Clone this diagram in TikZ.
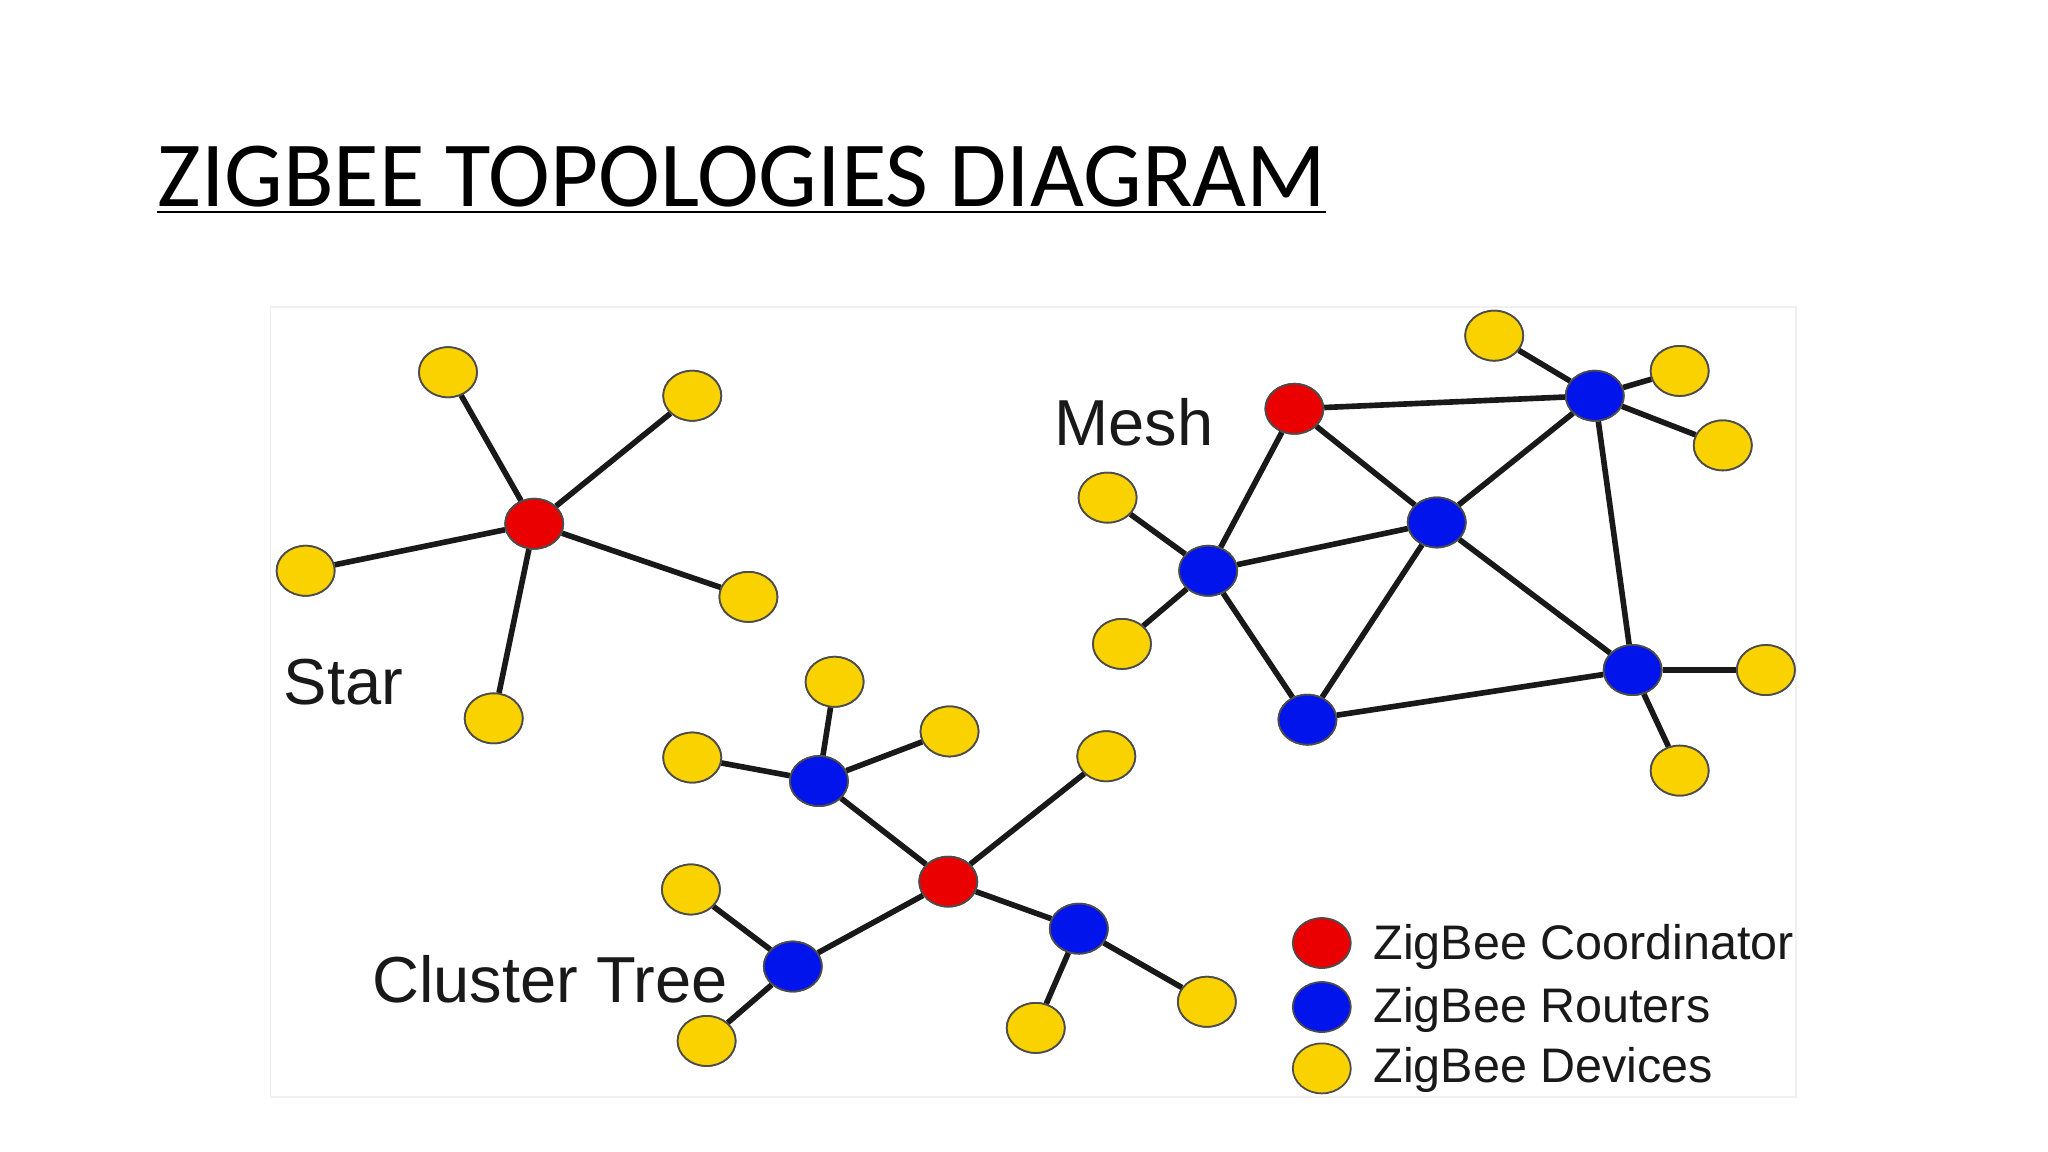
\documentclass[tikz,border=0pt]{standalone}
\usepackage{fontspec}
\setmainfont{Liberation Sans}
\newfontfamily\titlefont{Carlito}
\usetikzlibrary{shapes.geometric}
\tikzset{
 nd/.style={ellipse,draw=black!70,line width=0.5pt,minimum width=0.58cm,minimum height=0.5cm,inner sep=0pt},
 yel/.style={nd,fill={rgb,255:red,250;green,210;blue,0}},
 red/.style={nd,fill={rgb,255:red,235;green,0;blue,0}},
 blu/.style={nd,fill={rgb,255:red,0;green,20;blue,235}},
 ln/.style={line width=1.6pt,black!90},
 lbl/.style={font=\fontsize{18.5}{20}\selectfont,text=black!90},
 leg/.style={font=\fontsize{13.8}{15}\selectfont,text=black!90,anchor=west}
}
\begin{document}
\begin{tikzpicture}[x=0.013061cm,y=-0.013061cm]
\useasboundingbox (0,0) rectangle (1568,882);
\draw[black!6] (207,235) rectangle (1375,840);
\node[anchor=base west,inner sep=0pt,font=\titlefont\fontsize{26.5}{30}\selectfont] (title) at (120,158) {\underline{ZIGBEE TOPOLOGIES DIAGRAM}};
% Star
\node[red] (s0) at (409,401) {};
\foreach \n/\x/\y in {s1/343/285,s2/530/303,s3/234/437,s4/573/457,s5/378/550}{
 \node[yel] (\n) at (\x,\y) {};
 \draw[ln] (s0) -- (\n);}
\node[lbl] (star) at (263,522) {Star};
% Mesh
\node[red] (m0) at (991,313) {};
\node[blu] (ma) at (1221,303) {};
\node[blu] (mb) at (1100,400) {};
\node[blu] (mc) at (925,437) {};
\node[blu] (md) at (1001,551) {};
\node[blu] (me) at (1250,513) {};
\foreach \a/\b in {m0/ma,m0/mc,m0/mb,ma/mb,ma/me,mb/mc,mb/md,mb/me,mc/md,md/me}{\draw[ln] (\a) -- (\b);}
\foreach \n/\x/\y/\p in {y1/1144/257/ma,y2/1286/284/ma,y3/1319/341/ma,y4/848/381/mc,y5/859/493/mc,y6/1352/513/me,y7/1286/590/me}{
 \node[yel] (\n) at (\x,\y) {};
 \draw[ln] (\p) -- (\n);}
\foreach \n in {y1,y2,y3,y4,y5,y6,y7}{\node[yel] at (\n) {};}
\node[red] at (m0) {};\node[blu] at (ma) {};\node[blu] at (mb) {};\node[blu] at (mc) {};\node[blu] at (md) {};\node[blu] at (me) {};
\node[lbl] (mesh) at (868,323) {Mesh};
% Cluster tree
\node[red] (c0) at (726,675) {};
\node[blu] (ca) at (627,598) {};
\node[blu] (cb) at (826,711) {};
\node[blu] (cc) at (607,740) {};
\foreach \n/\x/\y/\p in {z1/639/522/ca,z2/727/560/ca,z3/530/580/ca,z4/847/579/c0,z5/529/681/cc,z6/541/797/cc,z7/793/787/cb,z8/924/767/cb}{
 \node[yel] (\n) at (\x,\y) {};
 \draw[ln] (\p) -- (\n);}
\foreach \b in {ca,cb,cc}{\draw[ln] (c0) -- (\b);}
\node[red] at (c0) {};\node[blu] at (ca) {};\node[blu] at (cb) {};\node[blu] at (cc) {};
\foreach \n in {s1,s2,s3,s4,s5}{\node[yel] at (\n) {};}\node[red] at (s0) {};
\foreach \n in {z1,z2,z3,z4,z5,z6,z7,z8}{\node[yel] at (\n) {};}
\node[lbl] (ct) at (421,750) {Cluster Tree};
% Legend
\node[red] (l1) at (1012,722) {};
\node[blu] (l2) at (1012,771) {};
\node[yel] (l3) at (1012,818) {};
\node[leg] (t1) at (1042,725) {ZigBee Coordinator};
\node[leg] (t2) at (1042,773) {ZigBee Routers};
\node[leg] (t3) at (1042,819) {ZigBee Devices};
\end{tikzpicture}
\end{document}
